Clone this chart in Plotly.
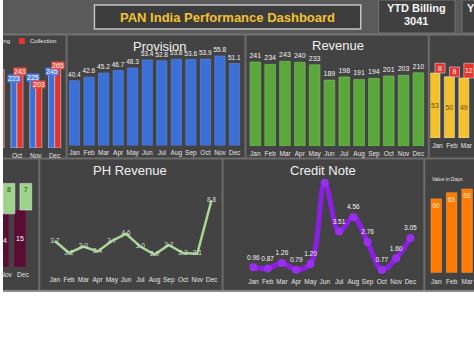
import plotly.graph_objects as go

W, H = 474, 355
FONT = "Liberation Sans, Arial, sans-serif"

# ---------------- data ----------------
months = ["Jan", "Feb", "Mar", "Apr", "May", "Jun", "Jul", "Aug", "Sep", "Oct", "Nov", "Dec"]

bc_months = ["Sep", "Oct", "Nov", "Dec"]
billing = [230, 223, 225, 245]
collection = [251, 243, 203, 265]

provision = [40.4, 42.6, 45.2, 46.7, 48.3, 53.4, 52.8, 53.8, 53.6, 53.9, 55.8, 51.1]
revenue = [241, 234, 243, 240, 233, 189, 198, 191, 194, 201, 203, 210]

q_months = ["Jan", "Feb", "Mar"]
q_yellow = [53, 50, 49]
q_red = [8, 8, 12]

s_months = ["Nov", "Dec"]
s_maroon = [14, 15]
s_green = [8, 7]

ph_revenue = [3.7, 2.2, 3.0, 2.4, 3.7, 4.6, 3.0, 2.0, 3.2, 2.2, 2.1, 8.8]
credit_note = [0.96, 0.87, 1.26, 0.79, 1.20, 7.0, 3.51, 4.56, 2.76, 0.77, 1.60, 3.05]
credit_hidden_label = "Jun"

d_months = ["Jan", "Feb", "Mar"]
days = [60, 65, 68]

# ---------------- helpers ----------------
def px(x):
    return x / W


def py(y):
    return 1 - y / H


fig = go.Figure()
layout = dict(
    width=W, height=H, margin=dict(l=0, r=0, t=0, b=0),
    paper_bgcolor="white", plot_bgcolor="rgba(0,0,0,0)",
    showlegend=False, font=dict(family=FONT, color="#e8e8e8", size=7),
    bargap=0.3,
)
TICKF = dict(family=FONT, size=6.5, color="#e4e4e4")


def add_axes(i, x0, x1, ytop, ybot, xr, yr, labels, standoff=2):
    layout[f"xaxis{i}"] = dict(
        domain=[px(x0), px(x1)], range=xr, anchor=f"y{i}",
        showgrid=False, zeroline=False, showline=False, ticks="",
        tickvals=list(range(len(labels))), ticktext=labels, tickangle=0,
        tickfont=TICKF, fixedrange=True, ticklabelstandoff=standoff,
        ticklabeloverflow="allow",
    )
    layout[f"yaxis{i}"] = dict(
        domain=[py(ybot), py(ytop)], range=yr, anchor=f"x{i}",
        visible=False, fixedrange=True,
    )
    return f"x{i}", f"y{i}"


shapes = []
annotations = []


def rect(x0, y0, x1, y1, fill, line=None, lw=0):
    shapes.append(dict(type="rect", xref="paper", yref="paper", layer="below",
                       x0=px(x0), x1=px(x1), y0=py(y1), y1=py(y0),
                       fillcolor=fill, line=dict(color=line or fill, width=lw)))


def line(x0, y0, x1, y1, color="#6e6e6e", w=2):
    shapes.append(dict(type="line", xref="paper", yref="paper", layer="below",
                       x0=px(x0), x1=px(x1), y0=py(y0), y1=py(y1),
                       line=dict(color=color, width=w)))


def text(x, y, t, size=13, color="#f0f0f0", xanchor="center"):
    annotations.append(dict(xref="paper", yref="paper", x=px(x), y=py(y), text=t,
                            showarrow=False, xanchor=xanchor, yanchor="middle",
                            font=dict(family=FONT, size=size, color=color)))


# ---------------- background panels ----------------
rect(0, 0, 474, 292, "#434343")
rect(0, 0, 474, 34, "#5a5a5a")
rect(92, 5, 360, 29, "#3c3c3c", "#c4c4c4", 1.5)
rect(378, 0, 455, 33, "#404040", "#747474", 1)
rect(462, 0, 490, 33, "#404040", "#747474", 1)
line(0, 34.5, 474, 34.5, "#727272", 2)
line(0, 158.5, 474, 158.5, "#6c6c6c", 2)
line(0, 291, 474, 291, "#8a8a8a", 2)
for xv in (64, 244, 428.5):
    line(xv, 35, xv, 158, "#6c6c6c", 2)
for xv in (36.5, 221, 424):
    line(xv, 159, xv, 290, "#6c6c6c", 2)

text(226, 17, "<b>PAN India Performance Dashboard</b>", 13, "#f2c230")
text(416, 8, "<b>YTD Billing</b>", 11, "#f4f4f4")
text(416, 21, "<b>3041</b>", 11, "#f4f4f4")
text(465, 8, "<b>YTD Collection</b>", 11, "#f4f4f4", xanchor="left")

# ---------------- P1: billing vs collection ----------------
xa, ya = add_axes(1, 0, 63, 45, 148, [0.26, 3.58], [0, 329], bc_months)
idx = list(range(len(bc_months)))
fig.add_trace(go.Bar(x=idx, y=billing, width=0.32, offset=-0.32, marker_color="#3b6fdc",
                     xaxis=xa, yaxis=ya))
fig.add_trace(go.Bar(x=idx, y=collection, width=0.32, offset=0.0, marker_color="#e2352c",
                     xaxis=xa, yaxis=ya))
for i in idx:
    annotations.append(dict(xref=xa, yref=ya, x=i - 0.16, y=billing[i], text=str(billing[i]),
                            showarrow=False, bgcolor="#4a7ee8", borderpad=0,
                            font=dict(family=FONT, size=7, color="white")))
    annotations.append(dict(xref=xa, yref=ya, x=i + 0.16, y=collection[i], text=str(collection[i]),
                            showarrow=False, bgcolor="#ef4a3c", borderpad=0,
                            font=dict(family=FONT, size=7, color="white")))
text(9, 41, "Billing", 6, "#e8e8e8", xanchor="right")
rect(16, 38, 22, 44, "#e2352c")
text(25, 41, "Collection", 6, "#e8e8e8", xanchor="left")

# ---------------- P2: provision ----------------
xa, ya = add_axes(2, 64.7, 240.3, 40, 145.5, [-0.5, 11.5], [0, 65.8], months)
fig.add_trace(go.Bar(x=list(range(12)), y=provision, width=0.7, marker_color="#3a70d8",
                     marker_line=dict(color="#5d8ce6", width=0.6),
                     text=[f"{v:.1f}" for v in provision], textposition="outside",
                     textfont=dict(size=6, color="#f2f2f2"), cliponaxis=False,
                     xaxis=xa, yaxis=ya))
text(157, 46, "Provision", 13)

# ---------------- P3: revenue ----------------
xa, ya = add_axes(3, 246.5, 425.5, 40, 146, [-0.5, 11.5], [0, 304], months)
fig.add_trace(go.Bar(x=list(range(12)), y=revenue, width=0.72, marker_color="#5aa83b",
                     marker_line=dict(color="#7cc45c", width=0.6),
                     text=[str(v) for v in revenue], textposition="outside",
                     textfont=dict(size=7, color="#f2f2f2"), cliponaxis=False,
                     xaxis=xa, yaxis=ya))
text(337, 45, "Revenue", 13)

# ---------------- P4: stacked yellow/red ----------------
xa, ya = add_axes(4, 430, 474, 40, 138, [-0.5, 2.53], [0, 80], q_months)
qi = list(range(len(q_months)))
fig.add_trace(go.Bar(x=qi, y=q_yellow, width=0.7, marker_color="#f4c12c",
                     text=[str(v) for v in q_yellow], textposition="inside",
                     insidetextanchor="middle", textangle=0,
                     textfont=dict(size=7, color="#6b4c00"), xaxis=xa, yaxis=ya))
fig.add_trace(go.Bar(x=qi, y=q_red, base=q_yellow, width=0.7, marker_color="#e8342c",
                     text=[str(v) for v in q_red], textposition="inside",
                     insidetextanchor="middle", textangle=0,
                     textfont=dict(size=7, color="white"), xaxis=xa, yaxis=ya))

# ---------------- Q1: stacked maroon/green ----------------
xa, ya = add_axes(5, 0, 36, 172, 267, [-0.176, 1.94], [0, 25], s_months)
si = list(range(len(s_months)))
fig.add_trace(go.Bar(x=si, y=s_maroon, width=0.7, marker_color="#5a0d33",
                     marker_line=dict(color="#7a2450", width=0.6),
                     text=[str(v) for v in s_maroon], textposition="inside",
                     insidetextanchor="middle", textangle=0,
                     textfont=dict(size=7, color="white"), xaxis=xa, yaxis=ya))
fig.add_trace(go.Bar(x=si, y=s_green, base=s_maroon, width=0.7, marker_color="#9dd48a",
                     text=[str(v) for v in s_green], textposition="inside",
                     insidetextanchor="end", textangle=0,
                     textfont=dict(size=7, color="#1d3f12"), xaxis=xa, yaxis=ya))

# ---------------- Q2: PH revenue ----------------
xa, ya = add_axes(6, 45, 217, 185, 270.6, [-0.5, 11.5], [0, 10.7], months, standoff=4)
fig.add_trace(go.Scatter(x=list(range(12)), y=ph_revenue, mode="lines+text",
                         line=dict(color="#a8d894", width=2.5),
                         text=[f"{v:.1f}" for v in ph_revenue], textposition="middle center",
                         textfont=dict(size=6.5, color="#dcdcdc"), cliponaxis=False,
                         xaxis=xa, yaxis=ya))
text(128, 170, "PH Revenue", 13)

# ---------------- Q3: credit note ----------------
xa, ya = add_axes(7, 244.8, 417.2, 178, 273, [-0.5, 11.5], [0.55, 7.34], months, standoff=3)
credit_labels = ["" if m == credit_hidden_label else f"{v:.2f}" for m, v in zip(months, credit_note)]
fig.add_trace(go.Scatter(x=list(range(12)), y=credit_note, mode="lines+markers+text",
                         line=dict(color="#8b1fe3", width=5, shape="spline", smoothing=1.0),
                         marker=dict(color="#9a30ee", size=8),
                         text=credit_labels, textposition="top center",
                         textfont=dict(size=6.5, color="#f4f4f4"), cliponaxis=False,
                         xaxis=xa, yaxis=ya))
text(322, 170, "Credit Note", 13)

# ---------------- Q4: value in days ----------------
xa, ya = add_axes(8, 428.25, 474, 185, 272.7, [-0.5, 2.45], [0, 71.3], d_months, standoff=4)
fig.add_trace(go.Bar(x=list(range(len(d_months))), y=days, width=0.68, marker_color="#ff7a00",
                     marker_line=dict(color="#ff9a3a", width=0.6),
                     text=[str(v) for v in days], textposition="inside",
                     insidetextanchor="end", textangle=0,
                     textfont=dict(size=6.5, color="#ffe9d0"), xaxis=xa, yaxis=ya))
text(430, 179, "Value in Days", 5, "#e8e8e8", xanchor="left")

layout["shapes"] = shapes
layout["annotations"] = annotations
layout["uniformtext"] = dict(minsize=6.5, mode="show")
fig.update_layout(**layout)
fig.write_html(
    "out.html",
    config={"displayModeBar": False},
    post_script="document.body.style.margin='0';document.body.style.overflow='hidden';",
)
